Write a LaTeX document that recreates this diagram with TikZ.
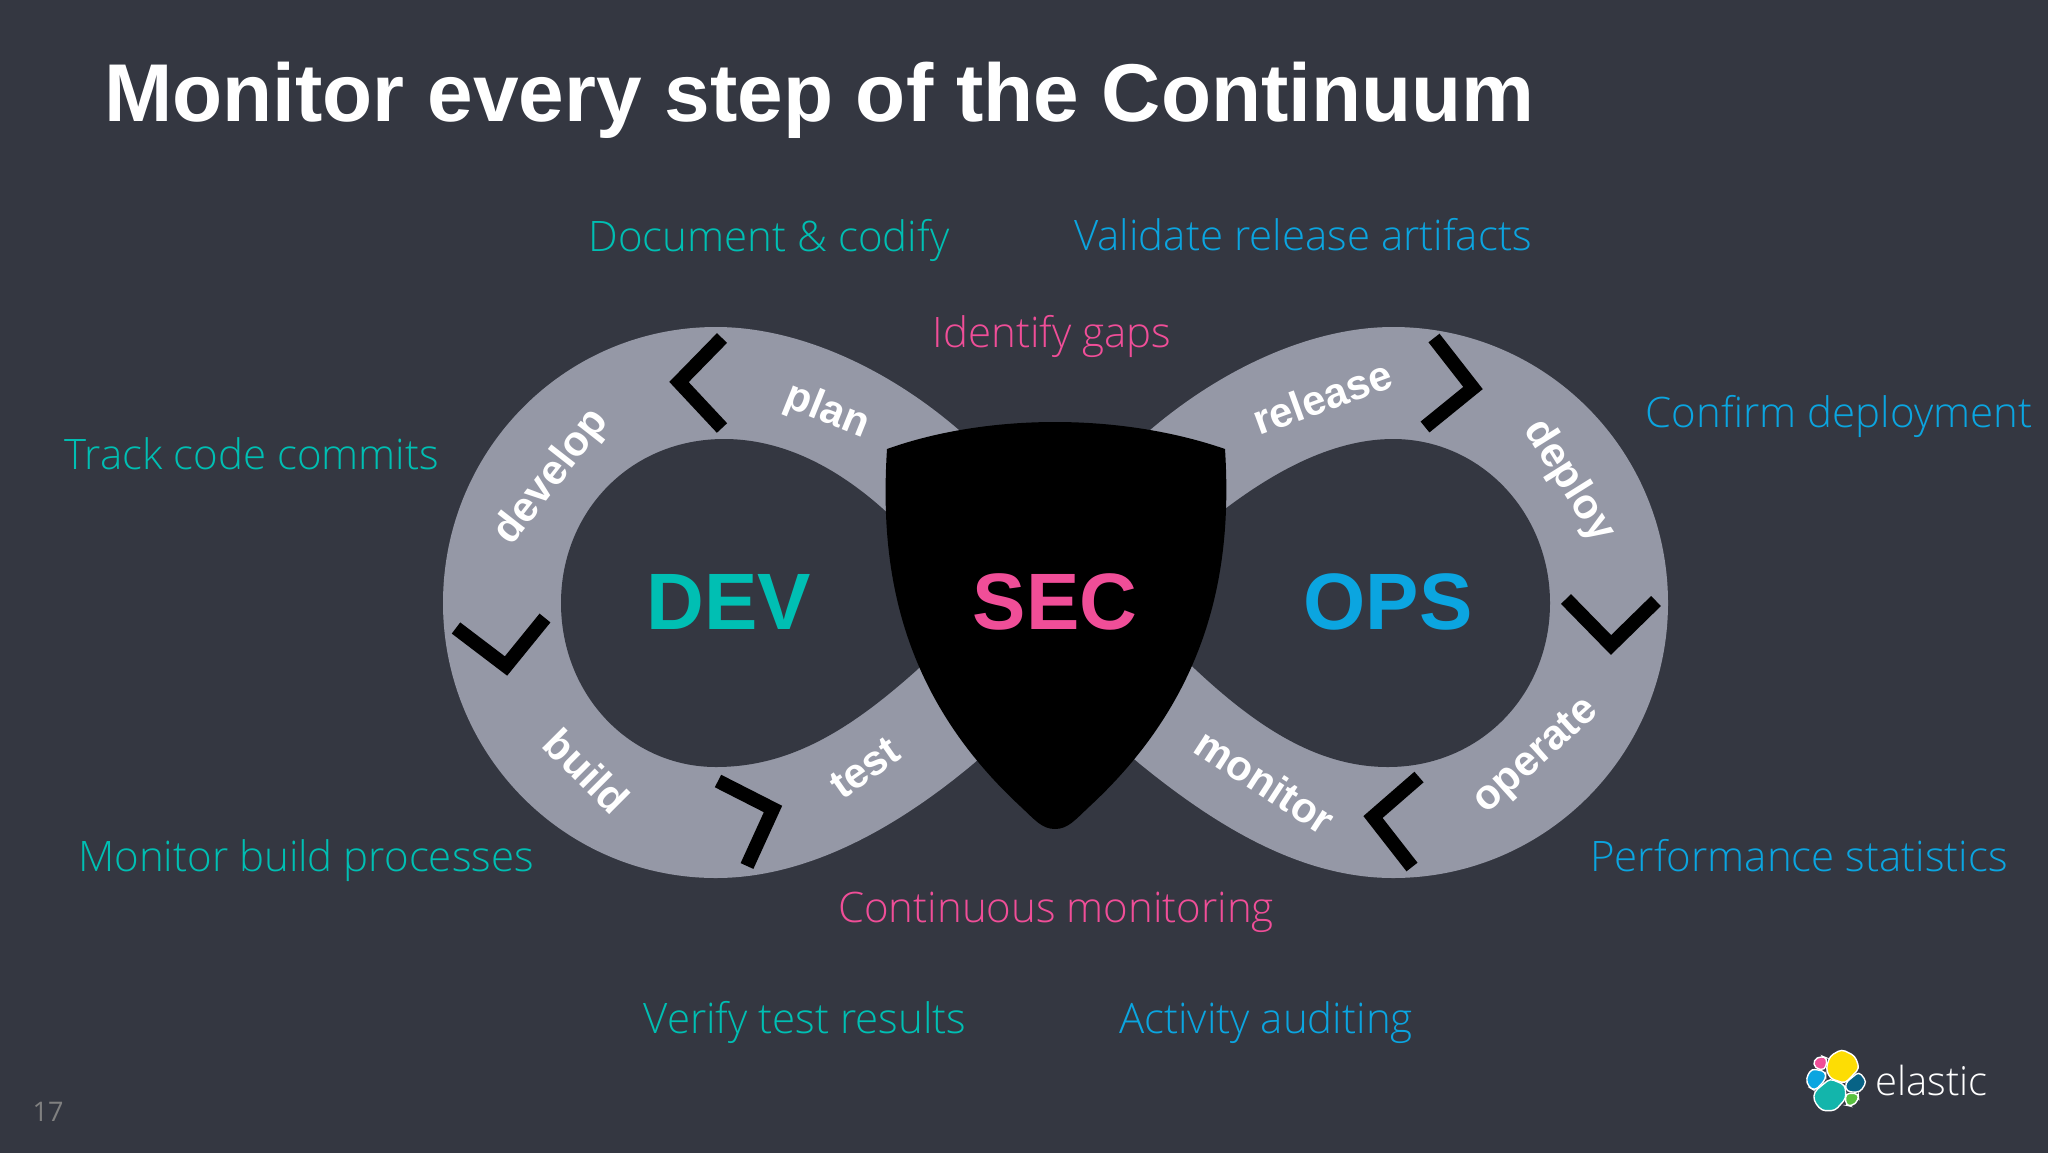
\documentclass[tikz,border=0pt]{standalone}
\usepackage{fontspec}
\setmainfont{Liberation Sans}
\newfontfamily\thinfont{Open Sans Light}
\newfontfamily\plainfont{Open Sans}
\definecolor{slatebg}{HTML}{343741}
\definecolor{ringgray}{HTML}{9598A6}
\definecolor{devteal}{HTML}{00BFB3}
\definecolor{secpink}{HTML}{F04E98}
\definecolor{opsblue}{HTML}{0BA5E0}
\tikzset{
	steplabel/.style={text=white, font=\bfseries\fontsize{42}{50}\selectfont},
	chevron/.style={draw=black, line width=14pt, miter limit=10},
	loopword/.style={font=\bfseries\fontsize{80}{96}\selectfont},
	note/.style={anchor=base, inner sep=0, font=\thinfont\fontsize{42}{50}\selectfont},
	blob/.style={draw=white, line width=1.4pt, rounded corners=4pt}
}

\begin{document}
\begin{tikzpicture}[x=1pt, y=-1pt]
	\useasboundingbox (0,0) rectangle (2048,1152);
	\fill[slatebg] (-3,-3) rectangle (2051,1155);
	\node[anchor=base west, inner sep=0, text=white, font=\bfseries\fontsize{82}{98}\selectfont] (title) at (104,121) {Monitor every step of the Continuum};
	% the two loops, the holes go on top
	\fill[ringgray] (1010,597) -- (960,431) .. controls (890,370) and (800,327) .. (716,327) .. controls (565,327) and (443,450) .. (443,603) .. controls (443,755) and (565,878) .. (716,878) .. controls (810,878) and (900,825) .. (973,764) -- (1010,732) -- cycle;
	\fill[ringgray] (1100,597) -- (1149,431) .. controls (1220,370) and (1310,327) .. (1393,327) .. controls (1545,327) and (1668,450) .. (1668,603) .. controls (1668,755) and (1545,878) .. (1393,878) .. controls (1300,878) and (1215,825) .. (1140,764) -- (1100,730) -- cycle;
	\fill[slatebg] (724,439) .. controls (790,439) and (850,475) .. (900,525) -- (940,600) -- (940,645) -- (918,669) .. controls (850,730) and (790,767) .. (716,767) .. controls (630,767) and (561,695) .. (561,603) .. controls (561,512) and (630,439) .. (724,439) -- cycle;
	\fill[slatebg] (1393,439) .. controls (1330,439) and (1270,475) .. (1225,509) -- (1170,600) -- (1170,645) -- (1195,669) .. controls (1260,730) and (1320,767) .. (1388,767) .. controls (1480,767) and (1550,695) .. (1550,603) .. controls (1550,512) and (1480,439) .. (1393,439) -- cycle;
	% shield
	\fill[black] (887,449) .. controls (940,430) and (1000,422) .. (1055,422) .. controls (1110,422) and (1170,430) .. (1225,449) .. controls (1232,560) and (1215,690) .. (1090,806) .. controls (1075,820) and (1068,829) .. (1055,829) .. controls (1042,829) and (1035,820) .. (1020,806) .. controls (895,690) and (880,560) .. (887,449) -- cycle;
	% chevrons
	\draw[chevron] (722,338) -- (679,382) -- (722,428);
	\draw[chevron] (456,628) -- (506,666) -- (545,618);
	\draw[chevron] (718,781) -- (773,809) -- (747,866);
	\draw[chevron] (1434,338) -- (1473,388) -- (1425,427);
	\draw[chevron] (1566,599) -- (1611,645) -- (1656,601);
	\draw[chevron] (1419,777) -- (1373,817) -- (1412,867);
	% steps round the ring
	\node[steplabel, rotate=-22] (plan) at (827,412) {plan};
	\node[steplabel, rotate=52] (develop) at (552,477) {develop};
	\node[steplabel, rotate=-45] (build) at (587,771) {build};
	\node[steplabel, rotate=35] (test) at (865,768) {test};
	\node[steplabel, rotate=20] (release) at (1322,397) {release};
	\node[steplabel, rotate=-58] (deploy) at (1569,481) {deploy};
	\node[steplabel, rotate=42] (operate) at (1537,757) {operate};
	\node[steplabel, rotate=-33] (monitor) at (1265,781) {monitor};
	\node[loopword, text=devteal] (dev) at (729,602) {DEV};
	\node[loopword, text=secpink] (sec) at (1055,602) {SEC};
	\node[loopword, text=opsblue] (ops) at (1388,602) {OPS};
	% notes
	\node[note, text=devteal] (codify) at (769,251) {Document \& codify};
	\node[note, text=opsblue] (artifacts) at (1303,250) {Validate release artifacts};
	\node[note, text=secpink] (gaps) at (1052,347) {Identify gaps};
	\node[note, text=devteal] (commits) at (252,469) {Track code commits};
	\node[note, text=opsblue] (deployment) at (1839,427) {Confirm deployment};
	\node[note, text=devteal] (processes) at (306,871) {Monitor build processes};
	\node[note, text=opsblue] (statistics) at (1799,871) {Performance statistics};
	\node[note, text=secpink] (monitoring) at (1056,922) {Continuous monitoring};
	\node[note, text=devteal] (results) at (805,1033) {Verify test results};
	\node[note, text=opsblue] (auditing) at (1266,1033) {Activity auditing};
	\node[text=gray, font=\plainfont\fontsize{27}{32}\selectfont] (page) at (48,1112) {17};
	% logo, in the pixels of a 3x crop
	\begin{scope}[shift={(1780,1030)}, x=.3333pt, y=-.3333pt]
		\draw[blob, fill=secpink] (100,90) -- (125,78) -- (142,85) -- (135,120) -- (105,115) -- cycle;
		\draw[blob, fill=opsblue] (78,145) -- (95,116) -- (137,125) -- (137,148) -- (105,182) -- (85,170) -- cycle;
		\draw[blob, fill=opsblue!60!black] (195,160) -- (237,125) -- (260,155) -- (240,187) -- (200,185) -- cycle;
		\draw[blob, fill=green!45!gray!90!yellow] (197,190) -- (234,190) -- (236,210) -- (215,229) -- (197,225) -- cycle;
		\draw[blob, fill=yellow!80!orange] (138,115) -- (150,78) -- (185,58) -- (225,78) -- (238,115) -- (195,160) -- (150,145) -- cycle;
		\draw[blob, fill=devteal!85!gray] (103,185) -- (150,146) -- (195,165) -- (198,205) -- (165,242) -- (125,242) -- (101,212) -- cycle;
	\end{scope}
	\node[anchor=base west, inner sep=0, text=white, font=\thinfont\fontsize{40}{48}\selectfont] (elastic) at (1875,1095) {elastic};
\end{tikzpicture}
\end{document}
